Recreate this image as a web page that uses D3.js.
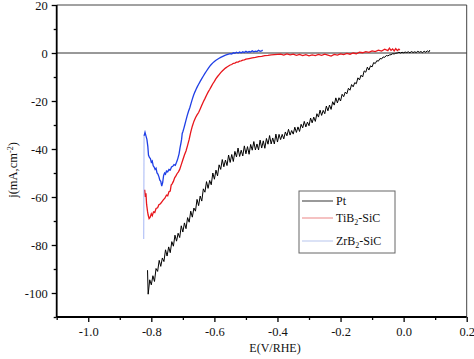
<!DOCTYPE html>
<html><head><meta charset="utf-8">
<script src="https://cdn.jsdelivr.net/npm/d3@7"></script>
<style>body{margin:0;background:#fff}svg{display:block}text{font-family:"Liberation Serif","Times New Roman",serif;fill:#111}</style>
</head><body>
<script>
const xTicks=[-1.0,-0.8,-0.6,-0.4,-0.2,0.0,0.2];
const xTickLabels=["-1.0","-0.8","-0.6","-0.4","-0.2","0.0","0.2"];
const xMinor=[-1.1,-0.9,-0.7,-0.5,-0.3,-0.1,0.1];
const yTicks=[20,0,-20,-40,-60,-80,-100];
const yTickLabels=["20","0","-20","-40","-60","-80","-100"];
const yMinor=[10,-10,-30,-50,-70,-90,-110];
const seriesNames=["Pt","TiB2-SiC","ZrB2-SiC"];

const ptData=[[-0.812,-90.5],[-0.810,-100.5],[-0.805,-94.5],[-0.800,-96.6],[-0.795,-92.8],[-0.790,-95.2],[-0.785,-89.8],[-0.780,-91.0],[-0.775,-86.4],[-0.770,-88.9],[-0.765,-85.4],[-0.760,-86.9],[-0.755,-82.0],[-0.750,-84.6],[-0.745,-80.8],[-0.740,-83.2],[-0.735,-78.6],[-0.730,-80.5],[-0.725,-75.9],[-0.720,-78.4],[-0.715,-75.1],[-0.710,-76.9],[-0.705,-72.0],[-0.700,-74.6],[-0.695,-70.8],[-0.690,-73.2],[-0.685,-68.6],[-0.680,-70.5],[-0.675,-65.9],[-0.670,-68.4],[-0.665,-64.6],[-0.660,-65.9],[-0.655,-61.0],[-0.650,-63.6],[-0.645,-59.6],[-0.640,-61.7],[-0.635,-56.6],[-0.630,-58.0],[-0.625,-53.6],[-0.620,-56.4],[-0.615,-53.1],[-0.610,-54.9],[-0.605,-50.0],[-0.600,-52.6],[-0.595,-48.8],[-0.590,-51.2],[-0.585,-46.6],[-0.580,-48.5],[-0.575,-44.4],[-0.570,-47.4],[-0.565,-44.6],[-0.560,-46.9],[-0.555,-42.5],[-0.550,-45.6],[-0.545,-42.3],[-0.540,-45.2],[-0.535,-41.0],[-0.530,-43.3],[-0.525,-39.6],[-0.520,-43.1],[-0.515,-40.5],[-0.510,-42.9],[-0.505,-38.7],[-0.500,-42.0],[-0.495,-39.0],[-0.490,-42.2],[-0.485,-38.1],[-0.480,-40.5],[-0.475,-36.9],[-0.470,-40.4],[-0.465,-37.9],[-0.460,-40.4],[-0.455,-36.3],[-0.450,-39.6],[-0.445,-36.6],[-0.440,-39.7],[-0.435,-35.6],[-0.430,-38.0],[-0.425,-34.4],[-0.420,-37.9],[-0.415,-35.4],[-0.410,-37.9],[-0.405,-33.8],[-0.400,-37.1],[-0.395,-33.9],[-0.390,-36.1],[-0.385,-33.9],[-0.380,-35.8],[-0.375,-32.9],[-0.370,-34.5],[-0.365,-31.8],[-0.360,-34.2],[-0.355,-32.3],[-0.350,-33.8],[-0.345,-30.9],[-0.340,-33.1],[-0.335,-30.8],[-0.330,-32.7],[-0.325,-29.7],[-0.320,-31.2],[-0.315,-28.5],[-0.310,-30.8],[-0.305,-28.8],[-0.300,-30.3],[-0.295,-27.1],[-0.290,-29.1],[-0.285,-26.7],[-0.280,-28.5],[-0.275,-25.3],[-0.270,-26.7],[-0.265,-23.8],[-0.260,-26.0],[-0.255,-23.9],[-0.250,-25.3],[-0.245,-22.1],[-0.240,-24.1],[-0.235,-21.7],[-0.230,-23.5],[-0.225,-20.3],[-0.220,-21.7],[-0.215,-18.7],[-0.210,-20.8],[-0.205,-18.65],[-0.200,-20.0],[-0.195,-17.2],[-0.190,-18.2],[-0.185,-16.25],[-0.180,-17.0],[-0.175,-14.7],[-0.170,-15.5],[-0.165,-13.15],[-0.160,-14.1],[-0.155,-12.35],[-0.150,-12.8],[-0.145,-10.35],[-0.140,-11.2],[-0.135,-9.25],[-0.130,-10.0],[-0.125,-7.45],[-0.120,-8.0],[-0.115,-5.9],[-0.110,-7.1],[-0.105,-5.35],[-0.100,-5.8],[-0.095,-4.0],[-0.090,-4.4],[-0.085,-3.2],[-0.080,-3.4],[-0.075,-2.3],[-0.070,-2.5],[-0.065,-1.65],[-0.060,-1.8],[-0.055,-1.05],[-0.050,-1.2],[-0.045,-0.8],[-0.040,-0.7],[-0.035,-0.3],[-0.030,-0.4],[-0.025,-0.1],[-0.020,0.0],[-0.015,0.3],[-0.010,0.0],[-0.005,0.3],[0.000,0.1],[0.005,0.4],[0.010,0.2],[0.015,0.5],[0.020,0.1],[0.025,0.6],[0.030,0.2],[0.035,0.5],[0.040,0.2],[0.045,0.7],[0.050,0.3],[0.055,0.6],[0.060,0.1],[0.065,0.8],[0.070,0.3],[0.075,0.9],[0.080,0.4],[0.083,1.2]];

const tibData=[[-0.821,-57.0],[-0.819,-60],[-0.817,-58.5],[-0.815,-63],[-0.812,-66],[-0.810,-67.5],[-0.807,-69],[-0.804,-68.5],[-0.800,-67],[-0.797,-67.8],[-0.793,-66.2],[-0.789,-66.5],[-0.785,-64.8],[-0.780,-64.5],[-0.776,-63.2],[-0.771,-62.8],[-0.766,-61.9],[-0.762,-61.2],[-0.757,-60.5],[-0.752,-59.2],[-0.748,-59.5],[-0.744,-57.8],[-0.740,-57.5],[-0.737,-55],[-0.734,-54.5],[-0.730,-53.5],[-0.726,-52],[-0.722,-51.2],[-0.718,-50.2],[-0.714,-49.5],[-0.710,-48.5],[-0.705,-46.5],[-0.700,-44.5],[-0.695,-42.5],[-0.690,-40.8],[-0.685,-38.5],[-0.680,-36],[-0.675,-33],[-0.670,-30.5],[-0.665,-28.5],[-0.660,-27],[-0.655,-25.8],[-0.650,-24.8],[-0.645,-23.3],[-0.640,-21.8],[-0.635,-20.3],[-0.630,-19],[-0.625,-17.6],[-0.620,-16.3],[-0.615,-15.2],[-0.610,-14],[-0.605,-12.8],[-0.600,-11.8],[-0.595,-10.7],[-0.590,-9.8],[-0.585,-9],[-0.580,-8.2],[-0.575,-7.5],[-0.570,-6.9],[-0.565,-6.3],[-0.560,-5.8],[-0.555,-5.4],[-0.550,-5.0],[-0.545,-4.8],[-0.540,-4.3],[-0.535,-4.2],[-0.530,-3.8],[-0.525,-3.8],[-0.520,-3.4],[-0.515,-3.3],[-0.510,-3.0],[-0.505,-2.9],[-0.500,-2.6],[-0.49,-2.3],[-0.48,-2.0],[-0.47,-1.8],[-0.46,-1.5],[-0.45,-1.4],[-0.44,-1.1],[-0.43,-1.0],[-0.42,-0.8],[-0.41,-0.7],[-0.40,-0.6],[-0.39,-0.5],[-0.38,-0.9],[-0.37,-0.4],[-0.36,-0.8],[-0.35,-0.5],[-0.34,-1.0],[-0.33,-0.6],[-0.32,-1.1],[-0.31,-0.7],[-0.30,-1.2],[-0.29,-0.8],[-0.28,-1.1],[-0.27,-0.6],[-0.26,-1.0],[-0.25,-0.5],[-0.24,-0.9],[-0.23,-1.3],[-0.22,-0.6],[-0.21,-0.9],[-0.20,-0.4],[-0.19,-0.7],[-0.18,-0.2],[-0.17,-0.5],[-0.16,0.0],[-0.15,-0.3],[-0.14,0.3],[-0.13,0.1],[-0.12,0.6],[-0.11,0.3],[-0.10,0.9],[-0.09,0.6],[-0.08,1.2],[-0.07,0.8],[-0.06,1.6],[-0.05,1.0],[-0.045,2.0],[-0.04,1.1],[-0.035,1.7],[-0.03,0.9],[-0.025,1.8],[-0.02,1.0],[-0.015,1.6],[-0.012,1.2]];

const zrbData=[[-0.824,-77.5],[-0.823,-34.5],[-0.820,-33],[-0.817,-34.5],[-0.814,-36],[-0.811,-39],[-0.809,-42.5],[-0.806,-43.5],[-0.803,-44],[-0.800,-45.5],[-0.797,-45],[-0.794,-47],[-0.791,-47.5],[-0.788,-48.5],[-0.785,-48],[-0.782,-50],[-0.779,-50.5],[-0.776,-51.5],[-0.773,-53],[-0.770,-53.5],[-0.767,-55.5],[-0.764,-54],[-0.761,-51],[-0.758,-50],[-0.755,-50.5],[-0.752,-49.2],[-0.748,-49.5],[-0.744,-48.5],[-0.740,-48.8],[-0.736,-47.5],[-0.732,-47.2],[-0.728,-46.5],[-0.724,-46.8],[-0.720,-45.5],[-0.716,-44],[-0.712,-42],[-0.709,-39.5],[-0.706,-37.5],[-0.704,-36],[-0.702,-33.5],[-0.700,-32.8],[-0.697,-31.5],[-0.694,-30],[-0.690,-28],[-0.686,-26],[-0.682,-24.3],[-0.678,-22.8],[-0.674,-21],[-0.670,-19.2],[-0.666,-17.6],[-0.662,-16.3],[-0.658,-15.1],[-0.654,-14],[-0.650,-13],[-0.645,-11.8],[-0.640,-10.7],[-0.635,-9.6],[-0.630,-8.5],[-0.625,-7.5],[-0.620,-6.5],[-0.615,-5.6],[-0.610,-4.8],[-0.605,-4.1],[-0.600,-3.5],[-0.595,-3.0],[-0.590,-2.6],[-0.585,-2.2],[-0.580,-1.8],[-0.575,-1.5],[-0.570,-1.2],[-0.565,-0.9],[-0.560,-0.7],[-0.555,-0.5],[-0.550,-0.3],[-0.545,-0.4],[-0.540,0.1],[-0.535,-0.1],[-0.530,0.3],[-0.525,0.0],[-0.520,0.4],[-0.515,0.1],[-0.510,0.5],[-0.505,0.2],[-0.500,0.7],[-0.495,0.3],[-0.490,0.6],[-0.485,0.4],[-0.480,0.9],[-0.475,0.5],[-0.470,0.8],[-0.465,0.6],[-0.460,1.1],[-0.455,0.7],[-0.450,0.9],[-0.447,1.2]];

const W=474,H=359;
const x=d3.scaleLinear().domain([-1.1,0.2]).range([56.7,466.7]);
const y=d3.scaleLinear().domain([-110,20]).range([317,5]);
const svg=d3.select("body").append("svg").attr("width",W).attr("height",H);

// frame top/right
svg.append("line").attr("x1",x(-1.1)).attr("x2",x(0.2)).attr("y1",y(20)).attr("y2",y(20)).attr("stroke","#444").attr("stroke-width",1);
svg.append("line").attr("x1",x(0.2)).attr("x2",x(0.2)).attr("y1",y(20)).attr("y2",y(-110)).attr("stroke","#444").attr("stroke-width",1);
// zero line
svg.append("line").attr("x1",x(-1.1)).attr("x2",x(0.2)).attr("y1",y(0)).attr("y2",y(0)).attr("stroke","#333").attr("stroke-width",1);

const line=d3.line().x(d=>x(d[0])).y(d=>y(d[1]));
svg.append("path").datum(ptData).attr("d",line).attr("fill","none").attr("stroke","#000").attr("stroke-width",1);
svg.append("path").datum(tibData).attr("d",line).attr("fill","none").attr("stroke","#e8161c").attr("stroke-width",1.3);
svg.append("path").datum(zrbData.slice(0,2)).attr("d",line).attr("fill","none").attr("stroke","#7f98f0").attr("stroke-width",0.7);
svg.append("path").datum(zrbData.slice(1)).attr("d",line).attr("fill","none").attr("stroke","#1f3fe6").attr("stroke-width",1.3);

// axes
const gx=svg.append("g").attr("transform",`translate(0,${y(-110)})`)
  .call(d3.axisBottom(x).tickValues(xTicks).tickSize(5).tickPadding(5).tickFormat((d,i)=>xTickLabels[i]));
const gxm=svg.append("g").attr("transform",`translate(0,${y(-110)})`)
  .call(d3.axisBottom(x).tickValues(xMinor).tickSize(3).tickFormat(""));
const gy=svg.append("g").attr("transform",`translate(${x(-1.1)},0)`)
  .call(d3.axisLeft(y).tickValues(yTicks).tickSize(5).tickPadding(4).tickFormat((d,i)=>yTickLabels[i]));
const gym=svg.append("g").attr("transform",`translate(${x(-1.1)},0)`)
  .call(d3.axisLeft(y).tickValues(yMinor).tickSize(3).tickFormat(""));
[gx,gxm,gy,gym].forEach(g=>{
  g.selectAll(".domain").attr("stroke","#000").attr("stroke-width",1.8);
  g.selectAll(".tick line").attr("stroke","#000").attr("stroke-width",1.3);
  g.selectAll("text").style("font-family","'Liberation Serif',serif").style("font-size","12.5px").attr("fill","#111");
});
gxm.select(".domain").remove(); gym.select(".domain").remove();
gx.select(".domain").attr("d",`M${x(-1.1)},0H${x(0.2)}`);
gy.select(".domain").attr("d",`M0,${y(-110)}V${y(20)}`);

// axis titles
svg.append("text").attr("x",275).attr("y",352).attr("text-anchor","middle").style("font-size","12px").text("E(V/RHE)");
const yl=svg.append("text").attr("transform","translate(17,170) rotate(-90)").attr("text-anchor","middle").style("font-size","12.5px");
yl.append("tspan").text("j(mA,cm");
yl.append("tspan").attr("dy",-4).style("font-size","8px").text("-2");
yl.append("tspan").attr("dy",4).text(")");

// legend
const lg=svg.append("g");
lg.append("rect").attr("x",299).attr("y",191).attr("width",96).attr("height",62).attr("fill","#fff").attr("stroke","#666").attr("stroke-width",1);
const legColors=["#555","#ee9a9a","#c4cff0"];
const legY=[201,218,241];
seriesNames.forEach((n,i)=>{
  lg.append("line").attr("x1",302).attr("x2",333).attr("y1",legY[i]).attr("y2",legY[i]).attr("stroke",legColors[i]).attr("stroke-width",1.2);
  const t=lg.append("text").attr("x",336).attr("y",legY[i]+4).style("font-size","12px");
  const parts=n.split("2");
  if(parts.length>1){
    t.append("tspan").text(parts[0]);
    t.append("tspan").attr("dy",3).style("font-size","8px").text("2");
    t.append("tspan").attr("dy",-3).text(parts[1]);
  } else t.text(n);
});
</script>
</body></html>
